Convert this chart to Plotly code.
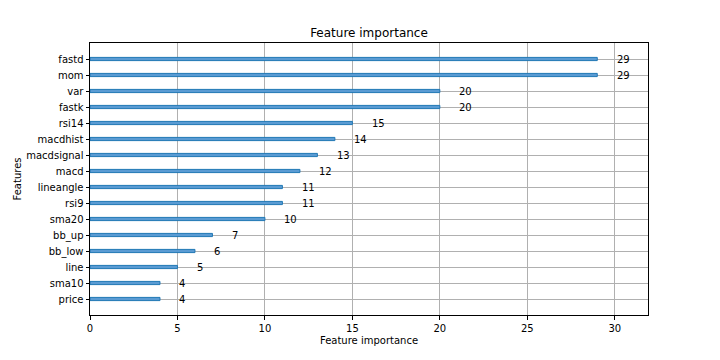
import plotly.graph_objects as go

features = ["price", "sma10", "line", "bb_low", "bb_up", "sma20", "rsi9", "lineangle",
            "macd", "macdsignal", "macdhist", "rsi14", "fastk", "var", "mom", "fastd"]
importance = [4, 4, 5, 6, 7, 10, 11, 11, 12, 13, 14, 15, 20, 20, 29, 29]
x_ticks = [0, 5, 10, 15, 20, 25, 30]

ypos = list(range(len(features)))

fig = go.Figure()
fig.add_trace(go.Bar(
    x=importance, y=ypos, orientation="h", width=0.2,
    marker=dict(color="#5a9bd3", line=dict(color="#1f77b4", width=1)),
    hoverinfo="x+y",
))

for v, y in zip(importance, ypos):
    fig.add_annotation(x=v + 1, y=y, text=str(v), showarrow=False,
                       xanchor="left", yanchor="middle",
                       font=dict(family="DejaVu Sans", size=10, color="black"))

axis_common = dict(showline=True, linecolor="black", linewidth=1, mirror=True,
                   ticks="outside", ticklen=3.5, tickcolor="black", tickwidth=0.8,
                   showgrid=True, gridcolor="#b0b0b0", gridwidth=0.8, zeroline=False,
                   automargin=False,
                   tickfont=dict(family="DejaVu Sans", size=10, color="black"))

fig.update_layout(
    width=720, height=360,
    margin=dict(l=90, r=72, t=43, b=45),
    paper_bgcolor="white", plot_bgcolor="white",
    showlegend=False,
    title=dict(text="Feature importance", x=0.5 * (90 + 648) / 720, xanchor="center",
               y=1 - 33 / 360, yanchor="middle",
               font=dict(family="DejaVu Sans", size=12, color="black")),
    xaxis=dict(range=[0, 31.9], tickvals=x_ticks, ticktext=[str(t) for t in x_ticks],
               title=dict(text="Feature importance", standoff=4,
                          font=dict(family="DejaVu Sans", size=10, color="black")),
               **axis_common),
    yaxis=dict(range=[-1, len(features)], tickvals=ypos, ticktext=features,
               title=dict(text="Features", standoff=2,
                          font=dict(family="DejaVu Sans", size=10, color="black")),
               **axis_common),
)

fig.write_html("out.html", config={"displayModeBar": False},
               post_script="document.body.style.margin='0';document.body.style.overflow='hidden';")
